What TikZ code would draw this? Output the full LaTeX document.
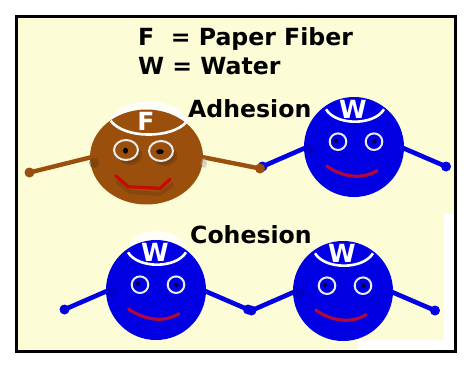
\documentclass[tikz,border=0pt]{standalone}
\usepackage{fontspec}
\setmainfont{DejaVu Sans}
\usetikzlibrary{calc}
\definecolor{paper}{HTML}{FCFCD6}
\definecolor{waterblue}{HTML}{0000E2}
\definecolor{fiberbrown}{HTML}{9A4F0C}
\definecolor{fiberdark}{HTML}{5E3410}
\definecolor{grinred}{HTML}{B0083C}
\definecolor{fibergrin}{HTML}{C80A00}
\tikzset{
  x=1pt,y=-1pt,
  legendtext/.style={font=\bfseries\fontsize{23.6}{24}\selectfont,text=black,anchor=base west,inner sep=0pt},
  captext/.style={font=\bfseries\fontsize{25}{25}\selectfont,text=white,inner sep=0pt},
  waterarm/.style={draw=waterblue,line width=4.6pt},
  fiberarm/.style={draw=fiberbrown,line width=4.4pt},
  capline/.style={draw=white,line width=2.6pt},
  eyering/.style={draw=white!92!black,line width=2pt},
}
% One water molecule; #1 is its centre, #2 its name
\newcommand{\waterface}[2]{%
  \begin{scope}[shift={(#1)}]
    \draw[waterarm] (-49,1) -- (-91.5,19.5);
    \draw[waterarm] (49,1) -- (92,19.5);
    \fill[waterblue] (-91.5,19.5) circle (5) (92,19.5) circle (5);
    \fill[waterblue] (0,0) circle (50);
    \fill[black!30!waterblue,opacity=.35] (-44,2) ellipse (6 and 5);
    \draw[capline] (-28,-37.7) .. controls (-18,-21.2) and (20,-21.2) .. (30,-37.7);
    \node[captext] (#2cap) at (-1,-38) {W};
    \draw[eyering] (-16,-5.3) circle (8.3);
    \draw[eyering] (20,-5.3) circle (8.3);
    \fill[black!70!waterblue] (-18.3,-6.3) circle (2.2) (20.3,-5.3) circle (2.2);
    \draw[grinred,line width=3.2pt,line cap=round]
      (-27.3,19) .. controls (-12,30) and (8,33) .. (23,23.7);
  \end{scope}}
\begin{document}
\begin{tikzpicture}
\useasboundingbox (0,0) rectangle (472,368);
\fill[white] (0,0) rectangle (472,368);
\fill[paper] (16,16) rectangle (455,351);
% white patches along the lower right edge
\fill[white] (444,214) rectangle (454,350);
\fill[white] (358,340) rectangle (454,350);
\draw[black,line width=3.4pt] (16.5,16.5) rectangle (455.5,351.5);

\node[legendtext] (legendf) at (138,45) {F\hspace{.7em}= Paper Fiber};
\node[legendtext] (legendw) at (138,74) {W = Water};
\node[legendtext] (adhesion) at (188,117) {Adhesion};
\node[legendtext] (cohesion) at (190,243.5) {Cohesion};

% water molecule beside the fiber
\waterface{354,147}{wone}

% paper fiber
\draw[fiberarm] (92,157) -- (29.5,172.5);
\draw[fiberarm] (202,157) -- (260,168.5);
\fill[fiberbrown] (29.5,172.5) circle (5) (260,168.5) circle (5);
\fill[white!85!paper] (109,122) .. controls (118,96) and (176,93) .. (189,122) -- cycle;
\fill[fiberbrown] (146.5,157) ellipse (56.5 and 47.5);
\fill[gray!60,opacity=.5] (204,163) ellipse (3 and 5);
\fill[fiberdark,opacity=.4] (94,163) ellipse (5 and 5);
\draw[capline] (110.7,120.7) .. controls (124,139) and (172,139) .. (186.7,121.7);
\node[captext] (fibercap) at (146,121.5) {F};
% eye and grin shadows
\fill[fiberdark,opacity=.35] (130,155) ellipse (12.5 and 10) (165,156) ellipse (12.5 and 10);
\fill[fiberdark,opacity=.35] (129,154) ellipse (11 and 9) (164,155) ellipse (11 and 9);
\draw[fiberdark,opacity=.3,line width=4pt,line cap=round]
  (118,182) -- (130,192) -- (160,194) -- (172,185);
\fill[fiberbrown] (126,150) ellipse (12 and 10) (161,151) ellipse (12 and 10);
\draw[eyering] (126,150) ellipse (12 and 10);
\draw[eyering] (161,151) ellipse (12 and 10);
\fill[black] (125.5,150.7) ellipse (2.5 and 3) (160,151.7) ellipse (3.8 and 2.5);
\draw[fibergrin,line width=3.2pt,line cap=round,line join=round]
  (115.7,175.7) -- (128.3,186.7) -- (160,188.3) -- (170,179.3);

% the two water molecules below
\fill[white!80!paper] (129,245) .. controls (134,226) and (178,226) .. (187,248) -- cycle;
\waterface{156,290}{wtwo}
\waterface{343,291}{wthree}
\end{tikzpicture}
\end{document}
